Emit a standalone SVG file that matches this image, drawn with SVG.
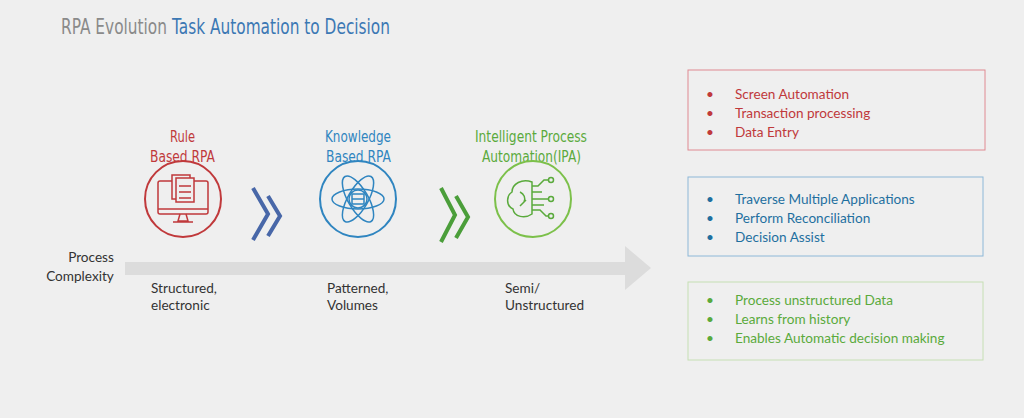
<svg xmlns="http://www.w3.org/2000/svg" width="1024" height="418" viewBox="0 0 1024 418">
<style>
.t{font-family:"DejaVu Sans","Liberation Sans",sans-serif}
.b{font-family:"Lato","Liberation Sans",Arial,sans-serif;font-size:13.6px}
.red{fill:#c0393b}.blu{fill:#2f85c0}.grn{fill:#5aaa3c}.dk{fill:#333}
</style>
<rect width="1024" height="418" fill="#efefef"/>
<text class="t" x="61" y="34" font-size="21" fill="#8a8a8a" textLength="106" lengthAdjust="spacingAndGlyphs">RPA Evolution</text>
<text class="t" x="172" y="34" font-size="21" fill="#3c78b4" textLength="218" lengthAdjust="spacingAndGlyphs">Task Automation to Decision</text>
<g id="connectors">
<polygon points="125,262 625,262 625,246 651,268 625,290 625,275 125,275" fill="#dcdcdc"/>
<polyline points="253,188 268,214 253,240" fill="none" stroke="#4867a8" stroke-width="4"/>
<polyline points="268,196 280,216 268,236" fill="none" stroke="#4867a8" stroke-width="4"/>
<polyline points="441,188 455,215 441,242" fill="none" stroke="#4b9e3a" stroke-width="4"/>
<polyline points="456,196 468,217 456,238" fill="none" stroke="#4b9e3a" stroke-width="4"/>
</g>
<text class="b dk" x="91" y="262" text-anchor="middle">Process</text>
<text class="b dk" x="80" y="281" text-anchor="middle">Complexity</text>
<g id="rule">
<text class="t red" x="170" y="142" font-size="16" textLength="25" lengthAdjust="spacingAndGlyphs">Rule</text>
<text class="t red" x="150" y="162" font-size="16" textLength="65" lengthAdjust="spacingAndGlyphs">Based RPA</text>
<circle cx="183" cy="199" r="38" fill="none" stroke="#c0393b" stroke-width="2"/>
<g fill="none" stroke="#c0393b" stroke-width="1.5">
<rect x="158" y="181" width="50" height="33" rx="2"/><line x1="158" y1="209" x2="208" y2="209"/>
<path d="M180 214 L178 221 L188 221 L186 214 M173 222 H193"/>
<rect x="172" y="175" width="18" height="24" fill="#efefef"/><rect x="176" y="178" width="18" height="24" fill="#efefef"/>
<path d="M179 186 h12 M179 192 h12 M179 198 h12"/>
</g>
<text class="b dk" x="151" y="293">Structured,</text>
<text class="b dk" x="151" y="310">electronic</text>
</g>
<g id="knowledge">
<text class="t blu" x="325" y="142" font-size="16" textLength="66" lengthAdjust="spacingAndGlyphs">Knowledge</text>
<text class="t blu" x="326" y="162" font-size="16" textLength="65" lengthAdjust="spacingAndGlyphs">Based RPA</text>
<circle cx="358" cy="199" r="38" fill="none" stroke="#2f85c0" stroke-width="2"/>
<g fill="none" stroke="#2f85c0" stroke-width="1.5">
<ellipse cx="358" cy="199" rx="26" ry="10"/>
<ellipse cx="358" cy="199" rx="26" ry="10" transform="rotate(60 358 199)"/>
<ellipse cx="358" cy="199" rx="26" ry="10" transform="rotate(-60 358 199)"/>
<circle cx="358" cy="199" r="9"/><path d="M352 194 h12 v10 h-12z M352 199 h12"/>
</g>
<text class="b dk" x="327" y="293">Patterned,</text>
<text class="b dk" x="327" y="310">Volumes</text>
</g>
<g id="ipa">
<text class="t grn" x="475" y="142" font-size="16" textLength="112" lengthAdjust="spacingAndGlyphs">Intelligent Process</text>
<text class="t grn" x="482" y="162" font-size="16" textLength="99" lengthAdjust="spacingAndGlyphs">Automation(IPA)</text>
<circle cx="533" cy="199" r="38" fill="none" stroke="#7cc04a" stroke-width="2"/>
<g fill="none" stroke="#5aaa3c" stroke-width="1.5">
<path d="M532 182 C522 178 512 184 512 192 C506 196 506 206 513 209 C514 217 525 219 532 214 Z"/>
<path d="M520 192 c4 2 6 6 4 10 M526 200 l-6 6"/>
<path d="M532 186 h6 l6 -6 h4 M532 199 h16 M532 210 h8 l6 6 h2 M532 192 h10 M532 205 h12"/>
<circle cx="551" cy="180" r="2.5"/><circle cx="551" cy="199" r="2.5"/><circle cx="551" cy="216" r="2.5"/>
</g>
<text class="b dk" x="505" y="293">Semi/</text>
<text class="b dk" x="505" y="310">Unstructured</text>
</g>
<g id="box-red">
<rect x="688" y="70" width="297" height="80" fill="none" stroke="#e08a92" stroke-width="1"/>
<g class="b red"><text x="706" y="99">•</text><text x="735" y="99">Screen Automation</text>
<text x="706" y="118">•</text><text x="735" y="118">Transaction processing</text>
<text x="706" y="137">•</text><text x="735" y="137">Data Entry</text></g>
</g>
<g id="box-blue">
<rect x="688" y="177" width="295" height="79" fill="none" stroke="#8db8d8" stroke-width="1"/>
<g class="b" fill="#1f6f9f"><text x="706" y="204">•</text><text x="735" y="204">Traverse Multiple Applications</text>
<text x="706" y="223">•</text><text x="735" y="223">Perform Reconciliation</text>
<text x="706" y="242">•</text><text x="735" y="242">Decision Assist</text></g>
</g>
<g id="box-green">
<rect x="688" y="282" width="295" height="78" fill="none" stroke="#c6dfb4" stroke-width="1"/>
<g class="b grn"><text x="706" y="305">•</text><text x="735" y="305">Process unstructured Data</text>
<text x="706" y="324">•</text><text x="735" y="324">Learns from history</text>
<text x="706" y="343">•</text><text x="735" y="343">Enables Automatic decision making</text></g>
</g>
</svg>
